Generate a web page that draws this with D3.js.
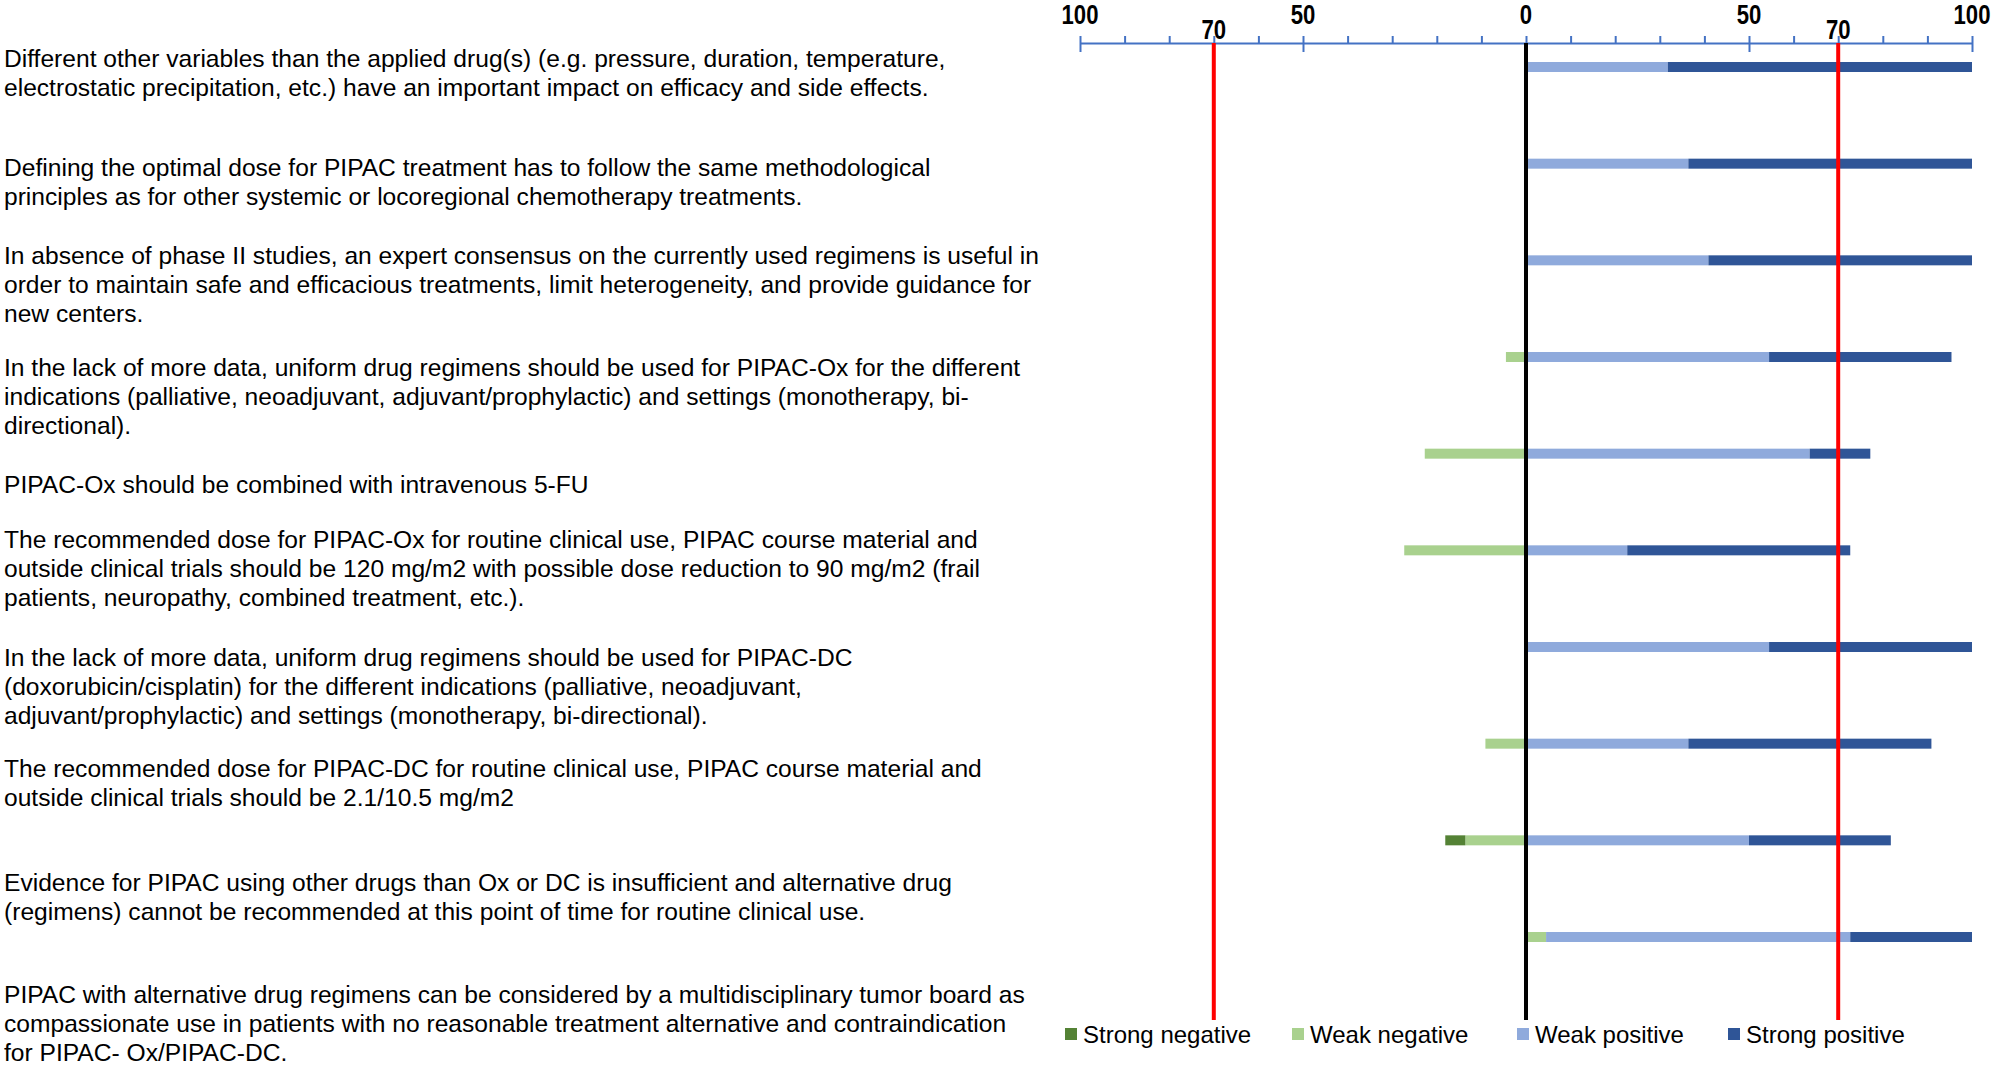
<!DOCTYPE html>
<html><head><meta charset="utf-8">
<script src="https://cdn.jsdelivr.net/npm/d3@7"></script>
<style>html,body{margin:0;padding:0;background:#fff;} svg{display:block;}</style>
</head><body>
<svg id="chart" width="1995" height="1068"></svg>
<script>
// ---------- data ----------
const statements = [
 ["Different other variables than the applied drug(s) (e.g. pressure, duration, temperature,",
  "electrostatic precipitation, etc.) have an important impact on efficacy and side effects."],
 ["Defining the optimal dose for PIPAC treatment has to follow the same methodological",
  "principles as for other systemic or locoregional chemotherapy treatments."],
 ["In absence of phase II studies, an expert consensus on the currently used regimens is useful in",
  "order to maintain safe and efficacious treatments, limit heterogeneity, and provide guidance for",
  "new centers."],
 ["In the lack of more data, uniform drug regimens should be used for PIPAC-Ox for the different",
  "indications (palliative, neoadjuvant, adjuvant/prophylactic) and settings (monotherapy, bi-",
  "directional)."],
 ["PIPAC-Ox should be combined with intravenous 5-FU"],
 ["The recommended dose for PIPAC-Ox for routine clinical use, PIPAC course material and",
  "outside clinical trials should be 120 mg/m2 with possible dose reduction to 90 mg/m2 (frail",
  "patients, neuropathy, combined treatment, etc.)."],
 ["In the lack of more data, uniform drug regimens should be used for PIPAC-DC",
  "(doxorubicin/cisplatin) for the different indications (palliative, neoadjuvant,",
  "adjuvant/prophylactic) and settings (monotherapy, bi-directional)."],
 ["The recommended dose for PIPAC-DC for routine clinical use, PIPAC course material and",
  "outside clinical trials should be 2.1/10.5 mg/m2"],
 ["Evidence for PIPAC using other drugs than Ox or DC is insufficient and alternative drug",
  "(regimens) cannot be recommended at this point of time for routine clinical use."],
 ["PIPAC with alternative drug regimens can be considered by a multidisciplinary tumor board as",
  "compassionate use in patients with no reasonable treatment alternative and contraindication",
  "for PIPAC- Ox/PIPAC-DC."]
];
const strongNegative = [0, 0, 0, 0, 0, 0, 0, 0, -4.5, 0];
const weakNegative   = [0, 0, 0, -4.5, -22.7, -27.3, 0, -9.1, -13.6, 4.5];
const weakPositive   = [31.8, 36.4, 40.9, 54.5, 63.6, 22.7, 54.5, 36.4, 50.0, 68.2];
const strongPositive = [68.2, 63.6, 59.1, 40.9, 13.6, 50.0, 45.5, 54.5, 31.8, 27.3];
const seriesNames = ["Strong negative", "Weak negative", "Weak positive", "Strong positive"];
const majorTicks = [-100, -50, 0, 50, 100];
const minorTicks = d3.range(-100, 101, 10);
const thresholds = [-70, 70];

// ---------- layout / style ----------
const W = 1995, H = 1068;
const colors = {"Strong negative":"#548235","Weak negative":"#A9D18E","Weak positive":"#8FAADC","Strong positive":"#2F5597"};
const labelTop = [67, 176, 264, 376, 493, 548, 666, 777, 891, 1003];
const lineGap = 29.2;
const legendX = [1065, 1292, 1517, 1728];
const axisY = 43, lineBottom = 1020;

const svg = d3.select("#chart");
svg.append("rect").attr("width", W).attr("height", H).attr("fill", "#fff");

const x = d3.scaleLinear().domain([-100, 100]).range([1080, 1972]);
const y = d3.scalePoint().domain(d3.range(statements.length)).range([67, 937]);
const barH = 10;

// statements text
const tg = svg.append("g").attr("font-family", "'Liberation Sans', Arial, sans-serif")
  .attr("font-size", 24.6).attr("fill", "#000");
statements.forEach((lines, i) => {
  const t = tg.append("text").attr("x", 4).attr("y", labelTop[i]);
  lines.forEach((ln, j) => {
    t.append("tspan").attr("x", 4).attr("y", labelTop[i] + j * lineGap).text(ln);
  });
});

// stacked bars
const rows = statements.map((s, i) => ({
  "Weak negative": weakNegative[i],
  "Strong negative": strongNegative[i],
  "Weak positive": weakPositive[i],
  "Strong positive": strongPositive[i],
  idx: i
}));
const stack = d3.stack()
  .keys(["Weak negative", "Strong negative", "Weak positive", "Strong positive"])
  .offset(d3.stackOffsetDiverging);
const series = stack(rows);
svg.append("g").selectAll("g").data(series).join("g")
  .attr("fill", d => colors[d.key])
  .selectAll("rect").data(d => d.filter(v => v[1] !== v[0])).join("rect")
  .attr("x", d => x(Math.min(d[0], d[1])))
  .attr("width", d => Math.abs(x(d[1]) - x(d[0])))
  .attr("y", d => y(d.data.idx) - barH / 2)
  .attr("height", barH);

// axis
const axisColor = "#4472C4";
const gMinor = svg.append("g").attr("transform", `translate(0,${axisY})`)
  .call(d3.axisTop(x).tickValues(minorTicks).tickSize(7).tickSizeOuter(0).tickFormat(""));
gMinor.selectAll("path,line").attr("stroke", axisColor).attr("stroke-width", 2);
const gMajor = svg.append("g").attr("transform", `translate(0,${axisY})`)
  .call(d3.axisBottom(x).tickValues(majorTicks).tickSize(9).tickSizeOuter(0).tickFormat(""));
gMajor.select(".domain").remove();
gMajor.selectAll("line").attr("stroke", axisColor).attr("stroke-width", 2);

// tick labels (absolute values)
const lab = svg.append("g").attr("font-family", "'Liberation Sans', Arial, sans-serif")
  .attr("font-weight", "bold").attr("font-size", 27).attr("fill", "#000").attr("text-anchor", "middle");
majorTicks.forEach(v => {
  lab.append("text").attr("transform", `translate(${x(v)},24) scale(0.82,1)`).text(Math.abs(v));
});
thresholds.forEach(v => {
  lab.append("text").attr("transform", `translate(${x(v)},39) scale(0.82,1)`).text(Math.abs(v));
});

// threshold lines and zero line
svg.append("g").selectAll("line").data(thresholds).join("line")
  .attr("x1", d => x(d)).attr("x2", d => x(d))
  .attr("y1", axisY).attr("y2", lineBottom)
  .attr("stroke", "#FF0000").attr("stroke-width", 4);
svg.append("line").attr("x1", x(0)).attr("x2", x(0)).attr("y1", axisY).attr("y2", lineBottom)
  .attr("stroke", "#000").attr("stroke-width", 4);

// legend
const lg = svg.append("g").attr("font-family", "'Liberation Sans', Arial, sans-serif").attr("font-size", 24);
seriesNames.forEach((name, i) => {
  lg.append("rect").attr("x", legendX[i]).attr("y", 1028).attr("width", 12).attr("height", 12).attr("fill", colors[name]);
  lg.append("text").attr("x", legendX[i] + 18).attr("y", 1043).text(name);
});
</script>
</body></html>
